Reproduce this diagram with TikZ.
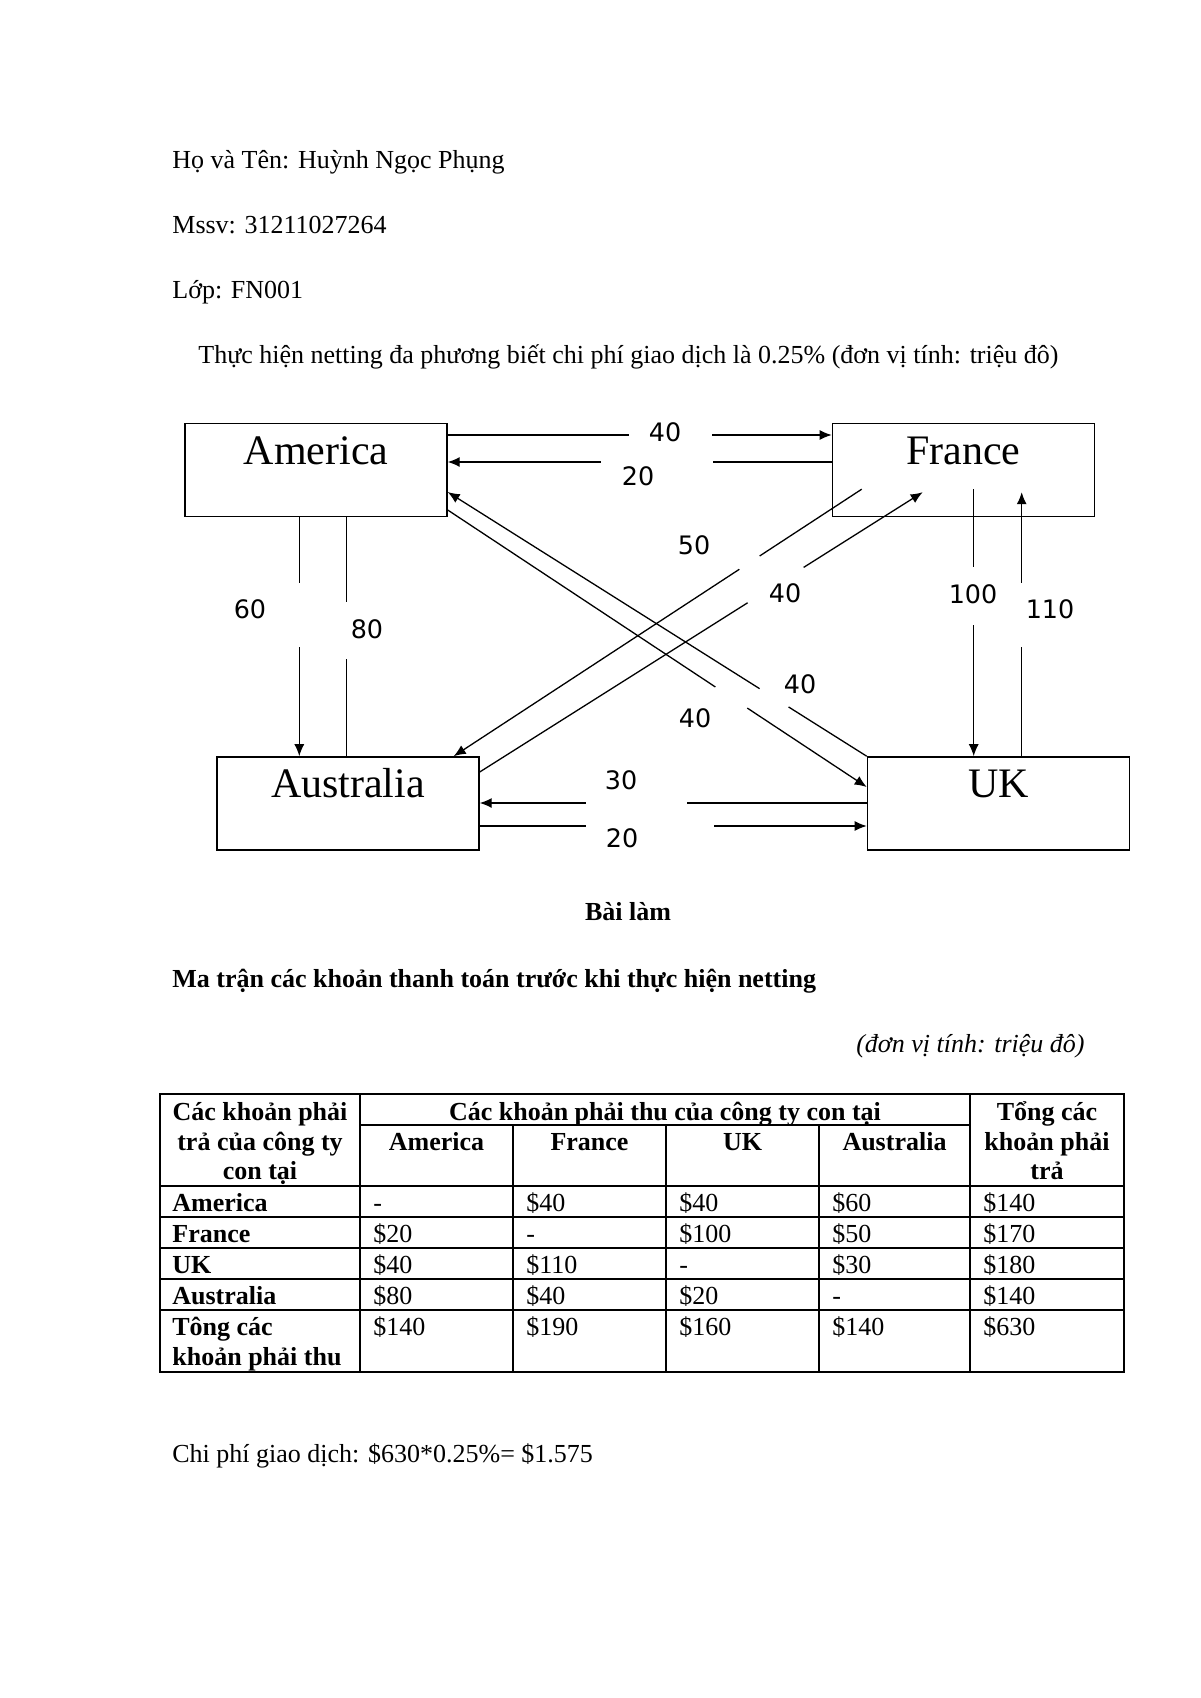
\documentclass[tikz,border=0pt]{standalone}
\usepackage{fontspec}
\setmainfont{Liberation Serif}
\newfontfamily\amountfont{DejaVu Sans}
\usetikzlibrary{arrows.meta, positioning, calc}

\begin{document}
\begin{tikzpicture}[
        x=0.5pt, y=-0.5pt,
        country/.style={rectangle, draw, line width=0.7pt, minimum width=131pt, inner xsep=0pt, inner ysep=0pt, text height=20.5pt, text depth=26pt, font=\fontsize{21}{25}\selectfont},
        arrow/.style={-{Latex[length=6pt, width=5pt]}, line width=0.65pt},
        link/.style={line width=0.65pt},
        gap/.style={fill=white, inner sep=0pt, minimum height=3pt, minimum width=#1, sloped},
        amount/.style={inner sep=0pt, font=\amountfont\fontsize{12.7}{15}\selectfont},
        txt/.style={anchor=base west, inner sep=0pt, font=\fontsize{13}{15.5}\selectfont},
        bold/.style={font=\fontsize{13}{15.5}\selectfont\bfseries},
        cell/.style={anchor=base west, inner sep=0pt, font=\fontsize{13}{15.5}\selectfont},
        head/.style={anchor=base, inner sep=0pt, font=\fontsize{13}{15.5}\selectfont\bfseries},
        grid/.style={line width=0.75pt},
        bar/.style={line width=1.4pt}
    ]
        \useasboundingbox (0,0) rectangle (1200,1698);

        % Header lines
        \node[txt] (name) at (172,168) {Họ và Tên: Huỳnh Ngọc Phụng};
        \node[txt] (mssv) at (172,233) {Mssv: 31211027264};
        \node[txt] (lop) at (172,298) {Lớp: FN001};
        \node[txt] (task) at (198,363) {Thực hiện netting đa phương biết chi phí giao dịch là 0.25\% (đơn vị tính: triệu đô)};

        % Nodes
        \node[country] (am) at (316,470) {America};
        \node[country, right=192pt of am] (fr) {France};
        \node[country, below=119.5pt of am, xshift=16pt] (au) {Australia};
        \node[country, right=193.5pt of au] (uk) {UK};

        \coordinate (amA) at ($(am.south west)+(115,0)$);
        \coordinate (amB) at ($(am.south west)+(162,0)$);
        \coordinate (frA) at ($(fr.south west)+(142,-28)$);
        \coordinate (frB) at ($(fr.south west)+(190,-25)$);
        \coordinate (frC) at ($(fr.south west)+(30,-28)$);
        \coordinate (frD) at ($(fr.south west)+(91,-25)$);

        % Connections
        \draw[arrow] (am.east |- 0,435) -- node[gap=41.5pt, pos=0.58] {} (fr.west |- 0,435);
        \draw[arrow] (fr.west |- 0,462) -- node[gap=56pt, pos=0.454] {} (am.east |- 0,462);
        \draw[arrow] (amA) -- node[gap=32pt, pos=0.41] {} (au.north -| amA);
        \draw[link] (amB) -- node[gap=28.5pt, pos=0.475] {} (au.north -| amB);
        \draw[arrow] (frA) -- node[gap=29pt, pos=0.40] {} (uk.north -| frA);
        \draw[arrow] (uk.north -| frB) -- node[gap=32pt, pos=0.534] {} (frB);
        \draw[arrow] (uk.north west) -- node[gap=17pt, pos=0.221] {} (am.east |- 0,492);
        \draw[arrow] (am.east |- 0,510) -- node[gap=19pt, pos=0.677] {} (uk.west |- 0,787);
        \draw[arrow] (frC) -- node[gap=12pt, pos=0.275] {} ($(au.north east)+(-26,0)$);
        \draw[arrow] (au.east |- 0,772) -- node[gap=33pt, pos=0.668] {} (frD);
        \draw[arrow] (uk.west |- 0,803) -- node[gap=50.5pt, pos=0.596] {} (au.east |- 0,803);
        \draw[arrow] (au.east |- 0,826) -- node[gap=64pt, pos=0.439] {} (uk.west |- 0,826);

        % Amounts
        \node[amount] (v40a) at (665,432) {40};
        \node[amount] (v20a) at (638,476) {20};
        \node[amount] (v60) at (250,609) {60};
        \node[amount] (v80) at (367,629) {80};
        \node[amount] (v100) at (973,594) {100};
        \node[amount] (v110) at (1050,609) {110};
        \node[amount] (v40b) at (800,684) {40};
        \node[amount] (v40c) at (695,718) {40};
        \node[amount] (v50) at (694,545) {50};
        \node[amount] (v40d) at (785,593) {40};
        \node[amount] (v30) at (621,780) {30};
        \node[amount] (v20b) at (622,838) {20};

        % Answer
        \node[txt, bold, anchor=base] (bailam) at (628,920) {Bài làm};
        \node[txt, bold] (mattitle) at (172,987) {Ma trận các khoản thanh toán trước khi thực hiện netting};
        \node[txt, anchor=base east, font=\fontsize{13}{15.5}\selectfont\itshape] (unit) at (1085,1052) {(đơn vị tính: triệu đô)};

        % Table grid
        \draw[grid] (160,1094) rectangle (1124,1372);
        \draw[grid] (360,1094) -- (360,1372);
        \draw[grid] (970,1094) -- (970,1372);
        \draw[bar] (360,1125) -- (970,1125);
        \foreach \x in {513,666,819}
            \draw[grid] (\x,1125) -- (\x,1372);
        \foreach \y in {1186,1248,1279}
            \draw[grid] (160,\y) -- (1124,\y);
        \foreach \y in {1217,1310}
            \draw[bar] (160,\y) -- (1124,\y);

        % Table header
        \foreach \y/\l/\r in {1120/Các khoản phải/Tổng các, 1150/trả của công ty/khoản phải, 1179/con tại/trả} {
            \node[head] at (260,\y) {\l};
            \node[head] at (1047,\y) {\r};
        }
        \node[head] (recv) at (665,1120) {Các khoản phải thu của công ty con tại};
        \foreach \x/\c in {436.5/America, 589.5/France, 742.5/UK, 894.5/Australia}
            \node[head] at (\x,1150) {\c};

        % Table body
        \foreach \y/\c/\a/\b/\u/\d/\t in {1211/America/-/\$40/\$40/\$60/\$140, 1242/France/\$20/-/\$100/\$50/\$170, 1273/UK/\$40/\$110/-/\$30/\$180, 1304/Australia/\$80/\$40/\$20/-/\$140, 1335/Tông các/\$140/\$190/\$160/\$140/\$630} {
            \node[cell, bold] at (172,\y) {\c};
            \node[cell] at (373,\y) {\a};
            \node[cell] at (526,\y) {\b};
            \node[cell] at (679,\y) {\u};
            \node[cell] at (832,\y) {\d};
            \node[cell] at (983,\y) {\t};
        }
        \node[cell, bold] (recvtotal) at (172,1365) {khoản phải thu};

        \node[txt] (cost) at (172,1462) {Chi phí giao dịch: \$630*0.25\%= \$1.575};

    \end{tikzpicture}
\end{document}
